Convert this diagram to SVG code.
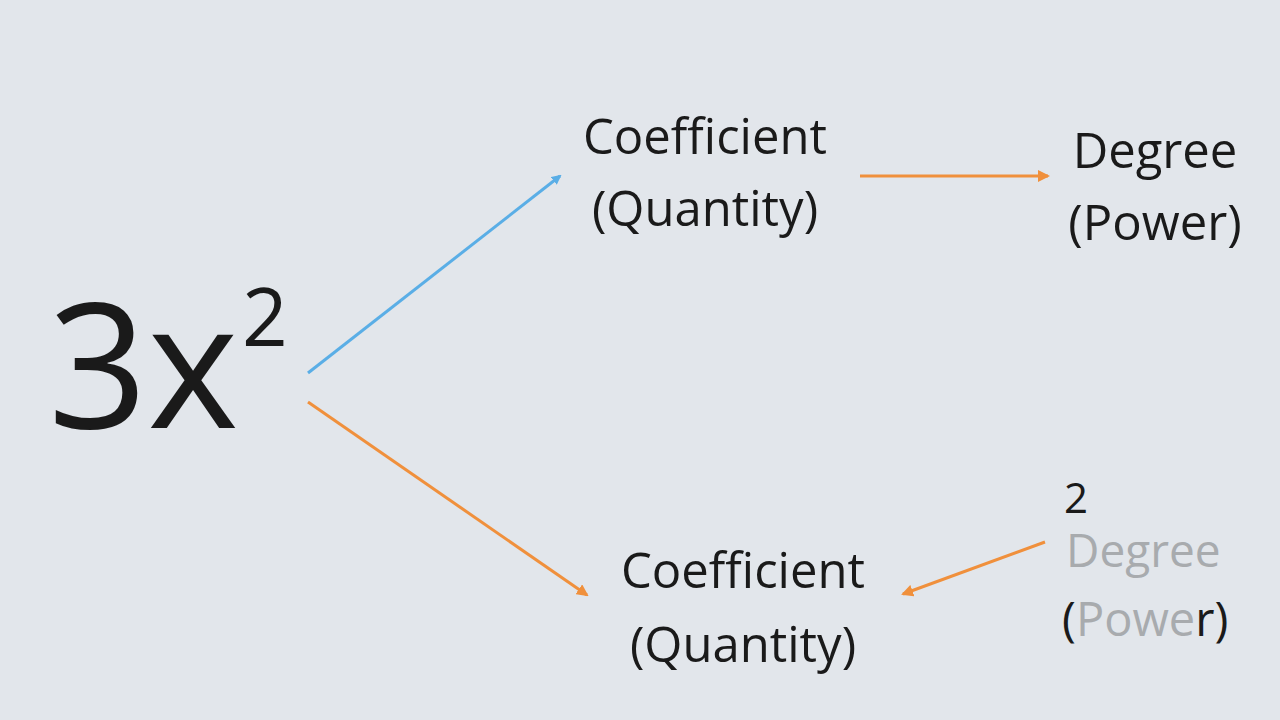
<svg xmlns="http://www.w3.org/2000/svg" width="1280" height="720" viewBox="0 0 1280 720">
<style>
text{font-family:"Open Sans","Noto Sans",sans-serif;fill:#1a1a1a}
.l{font-size:49px;text-anchor:middle}
.g{fill:#a8abae}
.c{fill:none;stroke-width:3}
</style>
<defs>
<marker id="ab" markerWidth="10" markerHeight="10" refX="8" refY="5" orient="auto" markerUnits="userSpaceOnUse"><path d="M0,0L10,5L0,10z" fill="#5aaee6"/></marker>
<marker id="ao" markerWidth="12" markerHeight="12" refX="10" refY="6" orient="auto" markerUnits="userSpaceOnUse"><path d="M0,0L12,6L0,12z" fill="#f0903c"/></marker>
</defs>
<rect width="1280" height="720" fill="#e2e6eb"/>
<g id="term"><text x="48" y="428" font-size="174">3x</text><text x="242" y="346" font-size="80">2</text></g>
<g id="coef-top"><text class="l" x="705" y="154">Coefficient</text><text class="l" x="705" y="226">(Quantity)</text></g>
<g id="degree-top"><text class="l" x="1155" y="168">Degree</text><text class="l" x="1155" y="240">(Power)</text></g>
<g id="coef-bottom"><text class="l" x="743" y="588">Coefficient</text><text class="l" x="743" y="662">(Quantity)</text></g>
<g id="degree-bottom"><text x="1064" y="513" font-size="42">2</text><text x="1066" y="567" font-size="46" class="g">Degree</text><text x="1062" y="636" font-size="47">(<tspan class="g">Powe</tspan>r)</text></g>
<g id="connectors">
<line class="c" x1="308" y1="373" x2="560" y2="176" stroke="#5aaee6" marker-end="url(#ab)"/>
<line class="c" x1="860" y1="176" x2="1048" y2="176" stroke="#f0903c" marker-end="url(#ao)"/>
<line class="c" x1="308" y1="402" x2="587" y2="595" stroke="#f0903c" marker-end="url(#ao)"/>
<line class="c" x1="1045" y1="542" x2="903" y2="594" stroke="#f0903c" marker-end="url(#ao)"/>
</g>
</svg>
